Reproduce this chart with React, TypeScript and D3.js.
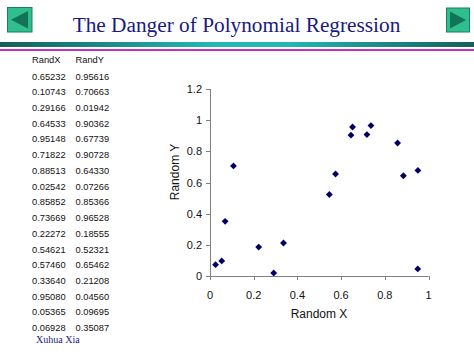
import React from "react";
import * as d3 from "d3";

const randX = [0.65232, 0.10743, 0.29166, 0.64533, 0.95148, 0.71822, 0.88513, 0.02542, 0.85852, 0.73669, 0.22272, 0.54621, 0.5746, 0.3364, 0.9508, 0.05365, 0.06928];
const randY = [0.95616, 0.70663, 0.01942, 0.90362, 0.67739, 0.90728, 0.6433, 0.07266, 0.85366, 0.96528, 0.18555, 0.52321, 0.65462, 0.21208, 0.0456, 0.09695, 0.35087];
const randXLabels = ["0.65232", "0.10743", "0.29166", "0.64533", "0.95148", "0.71822", "0.88513", "0.02542", "0.85852", "0.73669", "0.22272", "0.54621", "0.57460", "0.33640", "0.95080", "0.05365", "0.06928"];
const randYLabels = ["0.95616", "0.70663", "0.01942", "0.90362", "0.67739", "0.90728", "0.64330", "0.07266", "0.85366", "0.96528", "0.18555", "0.52321", "0.65462", "0.21208", "0.04560", "0.09695", "0.35087"];
const xTicks = [0, 0.2, 0.4, 0.6, 0.8, 1];
const yTicks = [0, 0.2, 0.4, 0.6, 0.8, 1, 1.2];

export default function App() {
  const W = 474, H = 355;
  const x = d3.scaleLinear().domain([0, 1]).range([210, 428.5]);
  const y = d3.scaleLinear().domain([0, 1.2]).range([276, 89]);
  const sans = "Liberation Sans, Arial, sans-serif";
  const diamond = d3.symbol().type(d3.symbolDiamond2).size(30)();
  return (
    <svg width={W} height={H} style={{ position: "absolute", left: 0, top: 0, background: "#fff" }}>
      <defs>
        <linearGradient id="band" x1="0" x2="1" y1="0" y2="0">
          <stop offset="0" stopColor="#155f5a" />
          <stop offset="0.45" stopColor="#22b8b8" />
          <stop offset="0.6" stopColor="#22b8b8" />
          <stop offset="1" stopColor="#155f5a" />
        </linearGradient>
      </defs>
      <rect x={0} y={0} width={W} height={H} fill="#fff" />
      <rect x={7.5} y={7.5} width={24.5} height={24.5} fill="#2fbf8c" stroke="#1d7d5e" strokeWidth={1} />
      <path d="M11,19.8 L28,11 L28,28.6 Z" fill="#127356" />
      <rect x={446.5} y={8} width={23} height={24} fill="#2fbf8c" stroke="#1d7d5e" strokeWidth={1} />
      <path d="M466,20 L450,11.5 L450,28.5 Z" fill="#127356" />
      <text x={236.5} y={31.5} textAnchor="middle" fontFamily="Liberation Serif, Times New Roman, serif" fontSize={21.3} fill="#1a1a80">The Danger of Polynomial Regression</text>
      <rect x={0} y={42} width={W} height={5} fill="url(#band)" />
      <rect x={0} y={49} width={W} height={2} fill="#c030c0" />
      <g fontFamily={sans} fontSize={9.3} fill="#111">
        <text x={32} y={63.3}>RandX</text>
        <text x={75.5} y={63.3}>RandY</text>
        {randXLabels.map((t, i) => (
          <g key={i}>
            <text x={32} y={79.6 + i * 15.72}>{t}</text>
            <text x={75.5} y={79.6 + i * 15.72}>{randYLabels[i]}</text>
          </g>
        ))}
      </g>
      <text x={36} y={342.5} fontFamily="Liberation Serif, Times New Roman, serif" fontSize={10} fill="#1a1a80">Xuhua Xia</text>
      <g stroke="#808080" strokeWidth={1} fill="none">
        <line x1={x(0) + 0.5} x2={x(0) + 0.5} y1={y(1.2)} y2={y(0)} />
        <line x1={x(0)} x2={x(1)} y1={y(0) + 0.5} y2={y(0) + 0.5} />
        {yTicks.map((t) => (
          <line key={"yt" + t} x1={x(0) - 4} x2={x(0)} y1={Math.round(y(t)) + 0.5} y2={Math.round(y(t)) + 0.5} />
        ))}
        {xTicks.map((t) => (
          <line key={"xt" + t} x1={Math.round(x(t)) + 0.5} x2={Math.round(x(t)) + 0.5} y1={y(0)} y2={y(0) + 4} />
        ))}
      </g>
      <g fontFamily={sans} fontSize={11} fill="#111">
        {yTicks.map((t) => (
          <text key={"yl" + t} x={202} y={y(t) + 4} textAnchor="end">{String(t)}</text>
        ))}
        {xTicks.map((t) => (
          <text key={"xl" + t} x={x(t)} y={299} textAnchor="middle">{String(t)}</text>
        ))}
      </g>
      <text x={319} y={318} textAnchor="middle" fontFamily={sans} fontSize={12} fill="#111">Random X</text>
      <text transform={`translate(179,172) rotate(-90)`} textAnchor="middle" fontFamily={sans} fontSize={12} fill="#111">Random Y</text>
      {randX.map((v, i) => (
        <path key={i} d={diamond as string} transform={`translate(${x(v)},${y(randY[i])})`} fill="#000066" />
      ))}
    </svg>
  );
}
